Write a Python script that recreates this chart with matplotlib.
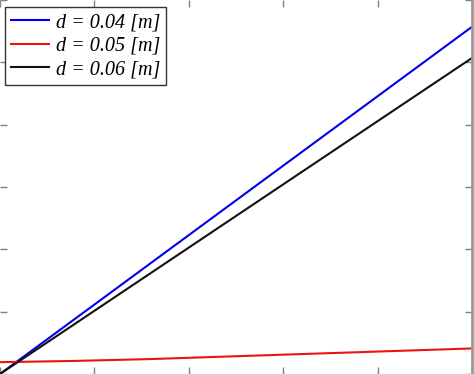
import matplotlib
matplotlib.use('Agg')

import matplotlib.pyplot as plt
import numpy as np

# values (axis units unknown, box spans x 0..5, y 0..6)
x_blue = [0.0, 5.0]
y_blue = [0.0, 5.57]
x_black = [0.0, 5.0]
y_black = [0.0, 5.07]
x_red = [0.0, 0.8, 1.6, 2.4, 3.2, 4.0, 4.6, 5.0]
y_red = [0.19, 0.21, 0.24, 0.28, 0.32, 0.36, 0.39, 0.41]
labels = ['d = 0.04 [m]', 'd = 0.05 [m]', 'd = 0.06 [m]']

fig = plt.figure(figsize=(4.74, 3.74), dpi=100)
ax = fig.add_axes([0.0, 0.0, 472 / 474, 1.0])

ax.plot(x_blue, y_blue, color='#0000ee', lw=1.5, label=labels[0])
ax.plot(x_red, y_red, color='#ee1111', lw=1.5, label=labels[1])
ax.plot(x_black, y_black, color='#111111', lw=1.5, label=labels[2])

ax.set_xlim(0, 5)
ax.set_ylim(0, 6)
ax.set_xticks(np.arange(0, 6))
ax.set_yticks(np.arange(0, 7))
ax.tick_params(direction='in', length=5, width=1, color='#808080',
               top=True, right=True, labelbottom=False, labelleft=False)

for side in ['left', 'top', 'bottom']:
    ax.spines[side].set_visible(False)
ax.spines['right'].set_color('#999999')
ax.spines['right'].set_linewidth(2)

leg = ax.legend(loc='upper left', bbox_to_anchor=(0.011, 0.981),
                prop={'family': 'Liberation Serif', 'style': 'italic', 'size': 14.5},
                handlelength=1.9, handletextpad=0.3, labelspacing=0.22,
                borderpad=0.3, borderaxespad=0, fancybox=False, framealpha=1)
leg.get_frame().set_edgecolor('#333333')
leg.get_frame().set_linewidth(1)

fig.savefig('out.png', dpi=100)
